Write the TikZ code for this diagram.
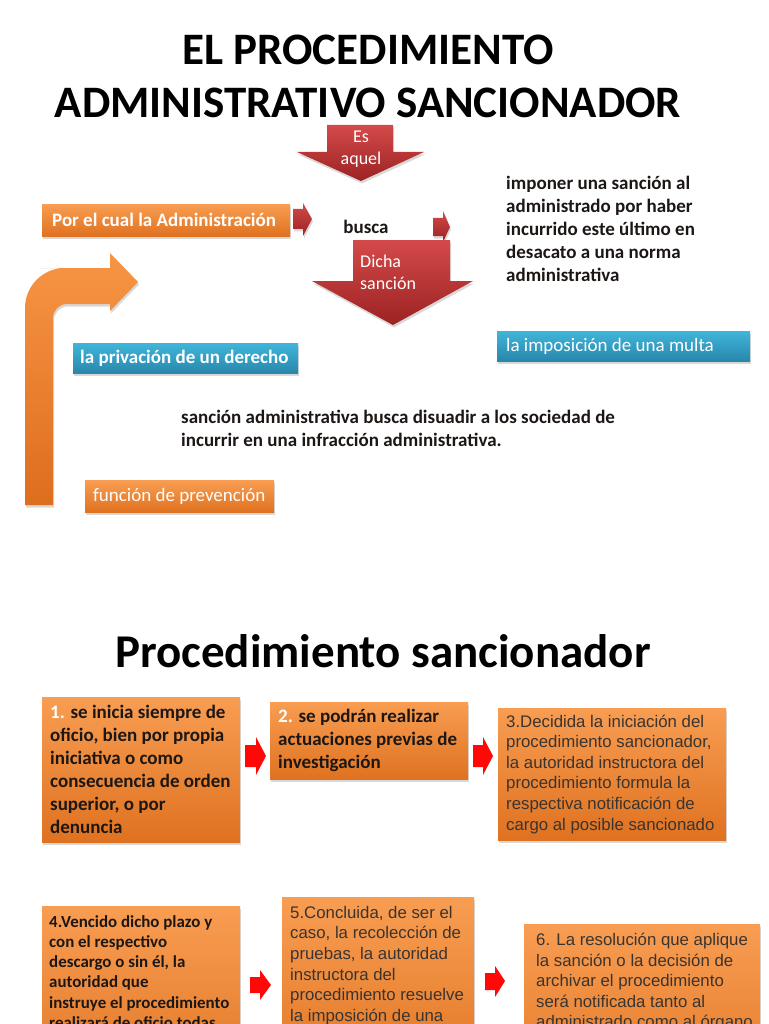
\documentclass[tikz,border=0pt]{standalone}
\usepackage{fontspec}
\setmainfont{Carlito}
\newfontfamily\arialf{Liberation Sans}
\usetikzlibrary{shadows,calc}
\definecolor{oTop}{HTML}{F89D52}
\definecolor{oBot}{HTML}{DF7220}
\definecolor{bTop}{HTML}{40B5DA}
\definecolor{bBot}{HTML}{2887AB}
\definecolor{rTop}{HTML}{D44A4A}
\definecolor{rBot}{HTML}{9C2222}
\definecolor{redA}{HTML}{FF0808}
\definecolor{gTop}{HTML}{F79545}
\definecolor{gBot}{HTML}{DD6E1E}
\definecolor{txt}{HTML}{1C1714}
\definecolor{atxt}{HTML}{3A3430}
\newcommand\myfb{\fontsize{19}{23}\selectfont\bfseries}
\newcommand\myfr{\fontsize{19}{23}\selectfont}
\newcommand\myfe{\fontsize{18}{22}\selectfont}
\newcommand\myfs{\fontsize{16.9}{20.3}\selectfont\bfseries}
\newcommand\myfa{\arialf\fontsize{16.8}{20.6}\selectfont}
\newcommand\mytitle{\fontsize{45}{54}\selectfont\bfseries}
\newcommand\mytitleb{\fontsize{47}{56}\selectfont\bfseries}
\tikzset{
  shd/.style={drop shadow={shadow xshift=1pt,shadow yshift=-2.5pt,opacity=0.3}},
  obox/.style={shd,top color=oTop,bottom color=oBot,draw=none,inner sep=0pt,anchor=north west},
  bbox/.style={shd,top color=bTop,bottom color=bBot,draw=none,inner sep=0pt,anchor=north west},
  ltxt/.style={inner sep=0pt,anchor=west,align=left,text=txt},
  rarr/.style={shd,top color=rTop,bottom color=rBot,draw=none},
  rarrb/.style={fill=redA,draw=none},
  bent/.style={shd,top color=gTop,bottom color=gBot,draw=none}
}
\begin{document}
\begin{tikzpicture}[x=1pt,y=-1pt]
\useasboundingbox (0,0) rectangle (768,1024);
\clip (0,0) rectangle (768,1024);
\fill[white] (0,0) rectangle (768,1024);

% titles
\node[font=\mytitle, anchor=base, inner sep=0pt] (t1) at (368,65) {EL PROCEDIMIENTO};
\node[font=\mytitle, anchor=base, inner sep=0pt] (t2) at (368,118) {ADMINISTRATIVO SANCIONADOR};

% Es aquel arrow
\path[rarr] (327,125) -- (393,125) -- (393,152) -- (424,152) -- (361,181) -- (297,152) -- (327,152) -- cycle;
\node[text=white, font=\myfe, align=center, inner sep=0pt] (esq) at (361,149) {Es\\aquel};

% Por el cual
\node[obox, minimum width=248pt, minimum height=32pt] (pc) at (42,204) {};
\node[ltxt, font=\myfb, text=white] (pct) at ($(pc.west)+(10,0)$) {Por el cual la Administración};

\path[rarr] (293,209) -- (303,209) -- (303,203) -- (312,219) -- (303,236) -- (303,229) -- (293,229) -- cycle;
\node[font=\myfb, inner sep=0pt, text=txt] (busca) at (366,227) {busca};
\path[rarr] (433,218) -- (443,218) -- (443,211) -- (450,227) -- (443,242) -- (443,236) -- (433,236) -- cycle;

% Dicha sancion arrow
\path[rarr] (353,240) -- (450,240) -- (450,281) -- (473,281) -- (393,325) -- (312,281) -- (353,281) -- cycle;
\node[ltxt, text=white, font=\myfe] (dic) at (360,272) {Dicha\\sanción};

% right text
\node[ltxt, font=\myfb, anchor=north west] (imp) at (506,176) {imponer una sanción al\\administrado por haber\\incurrido este último en\\desacato a una norma\\administrativa};

% blue boxes
\node[bbox, minimum width=253pt, minimum height=30pt] (mul) at (497,331) {};
\node[ltxt, font=\myfr, text=white] (mult) at ($(mul.west)+(9,0)$) {la imposición de una multa};
\node[bbox, minimum width=225pt, minimum height=30pt] (der) at (73,343) {};
\node[ltxt, font=\myfb, text=white] (dert) at ($(der.west)+(7,0)$) {la privación de un derecho};

% sancion text
\node[ltxt, font=\myfb, anchor=north west] (dis) at (181,410) {sanción administrativa busca disuadir a los sociedad de\\incurrir en una infracción administrativa.};

% funcion
\node[obox, minimum width=189pt, minimum height=32pt] (fun) at (85,480) {};
\node[ltxt, font=\myfr, text=white] (funt) at ($(fun.west)+(8,0)$) {función de prevención};

% bent arrow
\path[bent] (25,505) -- (25,400) [rounded corners=40pt] -- (25,268) -- (80,268) [sharp corners] -- (110,268) -- (110,253) -- (138,282) -- (110,311) -- (110,304) -- (80,304) [rounded corners=14pt] -- (53,304) -- (53,400) [sharp corners] -- (53,505) -- cycle;

% section 2
\node[font=\mytitleb, anchor=base, inner sep=0pt] (t3) at (383,667) {Procedimiento sancionador};

\node[obox, minimum width=198pt, minimum height=145pt] (b1) at (42,697) {};
\node[ltxt, font=\myfb] (b1t) at ($(b1.west)+(8,0)$) {\textcolor{white}{1.} se inicia siempre de\\oficio, bien por propia\\iniciativa o como\\consecuencia de orden\\superior, o por\\denuncia};

\node[obox, minimum width=198pt, minimum height=77pt] (b2) at (270,702) {};
\node[ltxt, font=\myfb] (b2t) at ($(b2.west)+(8,0)$) {\textcolor{white}{2.} se podrán realizar\\actuaciones previas de\\investigación};

\node[obox, minimum width=228pt, minimum height=132pt] (b3) at (498,708) {};
\node[ltxt, font=\myfa, text=atxt] (b3t) at ($(b3.west)+(8,0)$) {3.Decidida la iniciación del\\procedimiento sancionador,\\la autoridad instructora del\\procedimiento formula la\\respectiva notificación de\\cargo al posible sancionado};

\path[rarrb] (245,745) -- (256,745) -- (256,737) -- (266,756) -- (256,775) -- (256,767) -- (245,767) -- cycle;
\path[rarrb] (473,745) -- (483,745) -- (483,737) -- (493,756) -- (483,775) -- (483,767) -- (473,767) -- cycle;

\node[obox, minimum width=198pt, minimum height=200pt] (b4) at (42,906) {};
\node[ltxt, font=\myfs, anchor=north west] (b4t) at ($(b4.north west)+(7,9)$) {4.Vencido dicho plazo y\\con el respectivo\\descargo o sin él, la\\autoridad que\\instruye el procedimiento\\realizará de oficio todas};

\node[obox, minimum width=192pt, minimum height=200pt] (b5) at (282,897) {};
\node[ltxt, font=\myfa, text=atxt, anchor=north west] (b5t) at ($(b5.north west)+(8,9)$) {5.Concluida, de ser el\\caso, la recolección de\\pruebas, la autoridad\\instructora del\\procedimiento resuelve\\la imposición de una};

\node[obox, minimum width=236pt, minimum height=200pt] (b6) at (524,924) {};
\node[ltxt, font=\myfa, text=atxt, anchor=north west] (b6t) at ($(b6.north west)+(12,9)$) {6. La resolución que aplique\\la sanción o la decisión de\\archivar el procedimiento\\será notificada tanto al\\administrado como al órgano};

\path[rarrb] (250,977) -- (260,977) -- (260,970) -- (271,985) -- (260,1000) -- (260,993) -- (250,993) -- cycle;
\path[rarrb] (485,973) -- (495,973) -- (495,966) -- (505,981) -- (495,997) -- (495,990) -- (485,990) -- cycle;
\end{tikzpicture}
\end{document}
